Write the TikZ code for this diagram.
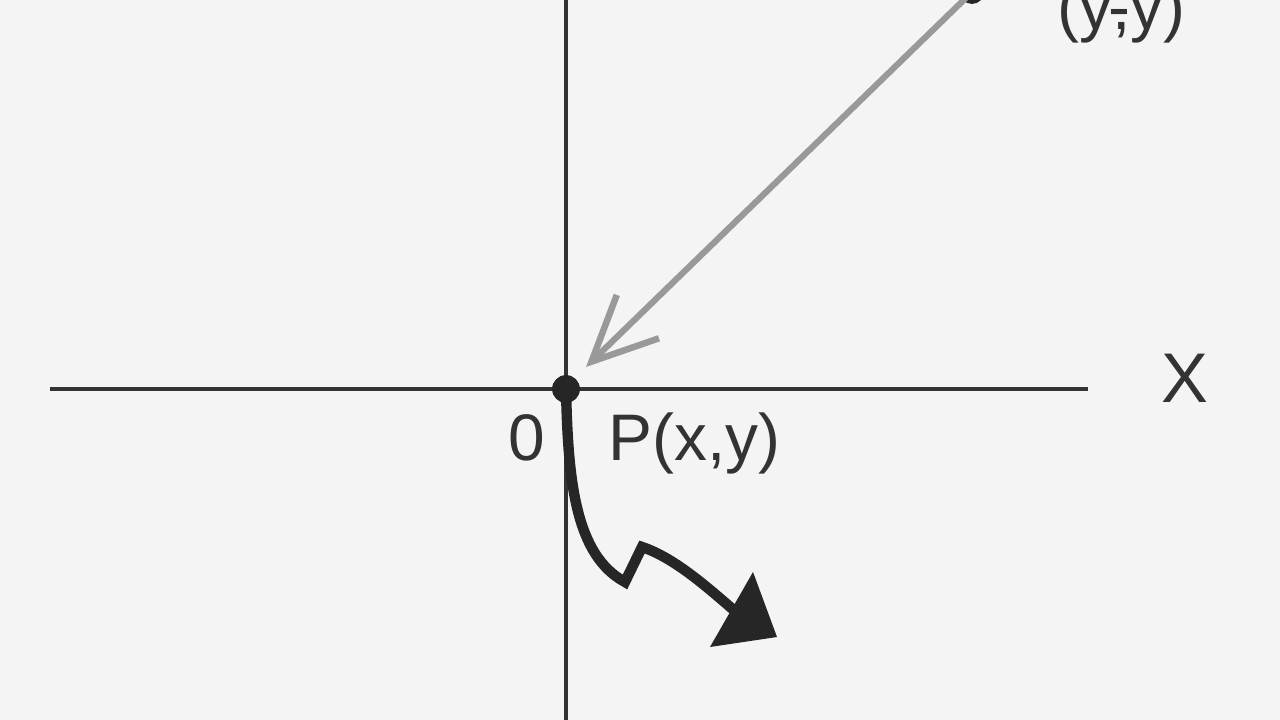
\documentclass[tikz,border=0pt]{standalone}
\usepackage{fontspec}
\setmainfont{Liberation Sans}
\usetikzlibrary{arrows.meta}
\definecolor{bg}{HTML}{F4F4F4}
\definecolor{axisc}{HTML}{333333}
\definecolor{grayarrow}{HTML}{999999}
\definecolor{ink}{HTML}{262626}
\begin{document}
\begin{tikzpicture}[x=0.025cm,y=-0.025cm,
  axisline/.style={draw=axisc,line width=2.8pt},
  lbl/.style={font=\fontsize{46.8}{56}\selectfont,text=axisc,inner sep=0pt},
  dotc/.style={circle,fill=ink,minimum size=19.8pt,inner sep=0pt}]
\fill[bg] (0,0) rectangle (1280,720);
\useasboundingbox (0,0) rectangle (1280,720);
% axes
\coordinate (xl) at (50,389);
\coordinate (xr) at (1088,389);
\coordinate (yt) at (566,0);
\coordinate (yb) at (566,720);
\draw[axisline] (xl) -- (xr);
\draw[axisline] (yt) -- (yb);
% points
\node[dotc] (P) at (566,389) {};
\node[dotc,minimum size=17pt] (Q) at (972,-8) {};
% gray arrow
\coordinate (tipg) at (586,367);
\draw[draw=grayarrow,line width=4.4pt,
  -{Straight Barb[length=46pt,width=43pt,line width=4.6pt]}] (Q.center) -- (tipg);
% labels
\node[lbl,anchor=base west] (lp) at (608,460) {P(x,y)};
\node[lbl,anchor=base west] (l0) at (508,460) {0};
\node[lbl,anchor=base west,font=\fontsize{50}{60}\selectfont] (lx) at (1161,403) {X};
\node[lbl,anchor=base west] (lq) at (1057,30) {(y\rlap{\kern-0.05em-},y)};
% black curvy arrow
\coordinate (zz1) at (625,582);
\coordinate (zz2) at (642,547);
\coordinate (bm) at (736,612);
\draw[draw=ink,line width=7.4pt,line join=miter] (P.center) .. controls (568,480) and (575,555) .. (zz1) -- (zz2) .. controls (675,558) and (708,588) .. (bm);
\fill[ink] (753,572) -- (777,637) -- (710,647) -- cycle;
\end{tikzpicture}
\end{document}
